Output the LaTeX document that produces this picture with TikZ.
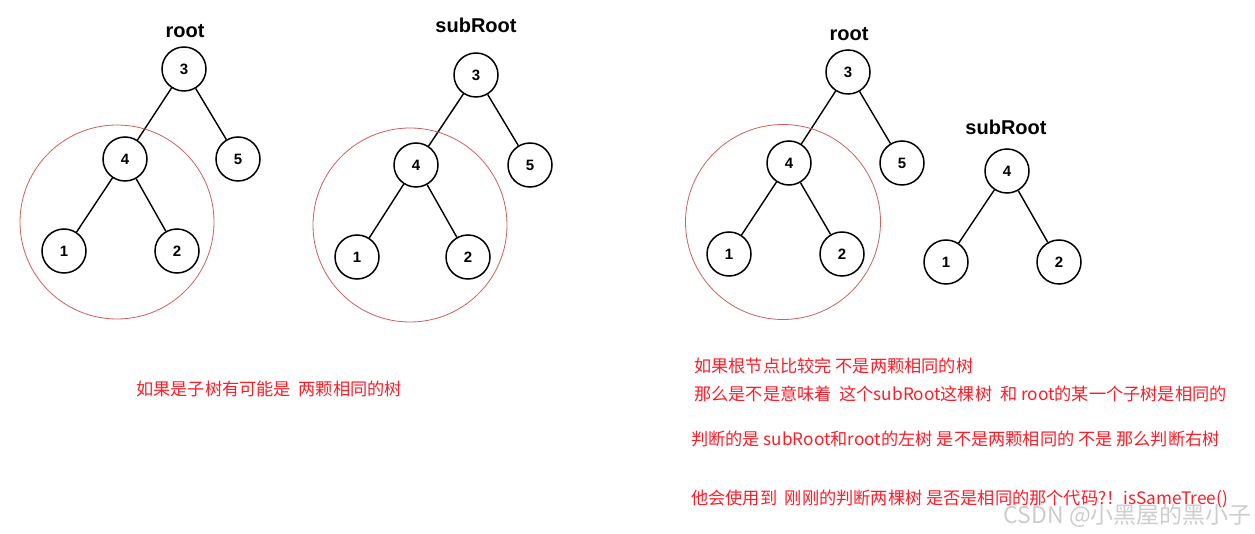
\documentclass[tikz,border=0pt]{standalone}
\usepackage{fontspec}
\setmainfont{Liberation Sans}
\newfontfamily\cjk{Noto Sans CJK SC}
\begin{document}
\begin{tikzpicture}[x=1pt,y=-1pt,
  tnode/.style={circle,draw=black,line width=1.5pt,minimum size=44pt,inner sep=0pt,font=\bfseries\fontsize{15}{17}\selectfont},
  edge/.style={draw=black,line width=1.4pt},
  hl/.style={draw={rgb,255:red,205;green,95;blue,95},line width=0.8pt},
  lbl/.style={font=\bfseries\fontsize{20}{23}\selectfont},
  note/.style={anchor=west,inner sep=0pt,text={rgb,255:red,250;green,30;blue,40},font=\cjk\fontsize{17.2}{20}\selectfont}]
\useasboundingbox (0,0) rectangle (1255,534);
% tree 1
\node[lbl] (l1) at (185,31) {root};
\node[tnode] (a3) at (184,69) {3};
\node[tnode] (a4) at (125,159) {4};
\node[tnode] (a5) at (238,159) {5};
\node[tnode] (a1) at (64,251) {1};
\node[tnode] (a2) at (177,251) {2};
\draw[edge] (a3)--(a4) (a3)--(a5) (a4)--(a1) (a4)--(a2);
\node[hl,circle,minimum size=194pt] (c1) at (117,222) {};
% tree 2
\node[lbl] (l2) at (476,25) {subRoot};
\node[tnode] (b3) at (476,75) {3};
\node[tnode] (b4) at (416,165) {4};
\node[tnode] (b5) at (530,165) {5};
\node[tnode] (b1) at (357,257) {1};
\node[tnode] (b2) at (468,257) {2};
\draw[edge] (b3)--(b4) (b3)--(b5) (b4)--(b1) (b4)--(b2);
\node[hl,circle,minimum size=194pt] (c2) at (410,225) {};
% tree 3
\node[lbl] (l3) at (849,34) {root};
\node[tnode] (d3) at (848,72) {3};
\node[tnode] (d4) at (789,163) {4};
\node[tnode] (d5) at (902,163) {5};
\node[tnode] (d1) at (729,254) {1};
\node[tnode] (d2) at (842,254) {2};
\draw[edge] (d3)--(d4) (d3)--(d5) (d4)--(d1) (d4)--(d2);
\node[hl,circle,minimum size=195pt] (c3) at (783,222) {};
% tree 4
\node[lbl] (l4) at (1006,127) {subRoot};
\node[tnode] (e4) at (1007,171) {4};
\node[tnode] (e1) at (946,262) {1};
\node[tnode] (e2) at (1059,262) {2};
\draw[edge] (e4)--(e1) (e4)--(e2);
% notes
\node[note] (t1) at (136,389) {如果是子树有可能是\ \ 两颗相同的树};
\node[note] (t2) at (694,366) {如果根节点比较完 不是两颗相同的树};
\node[note] (t3) at (694,394) {那么是不是意味着\ \ 这个subRoot这棵树\ \ 和 root的某一个子树是相同的};
\node[note] (t4) at (691,439) {判断的是 subRoot和root的左树 是不是两颗相同的 不是 那么判断右树};
\node[note] (t5) at (691,499) {他会使用到\ \ 刚刚的判断两棵树 是否是相同的那个代码?！isSameTree()};
\node[anchor=east,inner sep=0pt,text={rgb,255:red,205;green,205;blue,205},font=\cjk\fontsize{23}{26}\selectfont] (wm) at (1252,516) {CSDN @小黑屋的黑小子};
\end{tikzpicture}
\end{document}
